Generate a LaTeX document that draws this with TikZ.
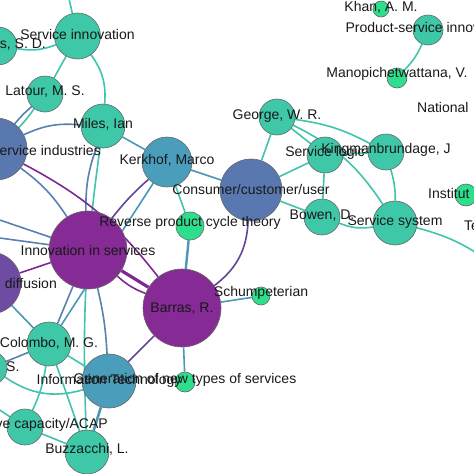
\documentclass[tikz,border=0pt]{standalone}
\usepackage{fontspec}
\setmainfont{Liberation Sans}
\usetikzlibrary{positioning}
\definecolor{nteal}{RGB}{62,200,168}
\definecolor{ngreen}{RGB}{45,222,140}
\definecolor{nbteal}{RGB}{74,158,187}
\definecolor{nblue}{RGB}{90,120,176}
\definecolor{npurp}{RGB}{134,42,150}
\definecolor{nviol}{RGB}{110,76,162}
\definecolor{eteal}{RGB}{64,196,172}
\definecolor{eblue}{RGB}{88,128,176}
\definecolor{epur}{RGB}{98,68,152}
\definecolor{edpur}{RGB}{125,40,148}
\definecolor{ebteal}{RGB}{76,150,182}
\pgfdeclarelayer{bg}
\pgfsetlayers{bg,main}
\tikzset{
  vn/.style={circle,draw=black!60,line width=0.6pt,inner sep=0pt},
  lbl/.style={font=\fontsize{14}{16}\selectfont,text=black!90,inner sep=0pt},
  et/.style={draw=eteal,line width=1.6pt},
  eb/.style={draw=eblue,line width=1.6pt},
  ep/.style={draw=epur,line width=1.6pt},
  edp/.style={draw=edpur,line width=1.6pt},
  ebt/.style={draw=ebteal,line width=1.6pt}
}
\begin{document}
\begin{tikzpicture}[x=1pt,y=-1pt]
\useasboundingbox (0,0) rectangle (474,474);
\clip (0,0) rectangle (474,474);
% nodes
\node[vn,fill=nteal,minimum size=46pt] (svinno) at (77.5,36) {};
\node[vn,fill=nteal,minimum size=38pt] (ssd) at (-2,46) {};
\node[vn,fill=nteal,minimum size=36pt] (latour) at (45,94) {};
\node[vn,fill=nteal,minimum size=44pt] (miles) at (103,126) {};
\node[vn,fill=nblue,minimum size=62pt] (svind) at (-4,149) {};
\node[vn,fill=nbteal,minimum size=50pt] (kerkhof) at (167,162) {};
\node[vn,fill=nblue,minimum size=62pt] (consumer) at (251,190) {};
\node[vn,fill=nteal,minimum size=36pt] (george) at (277,117) {};
\node[vn,fill=nteal,minimum size=36pt] (svlogic) at (325,155) {};
\node[vn,fill=nteal,minimum size=36pt] (kingman) at (386,152) {};
\node[vn,fill=nteal,minimum size=36pt] (bowen) at (322,217) {};
\node[vn,fill=nteal,minimum size=44pt] (svsys) at (395,223) {};
\node[vn,fill=ngreen,minimum size=22pt] (instit) at (466,195) {};
\node[vn,fill=ngreen,minimum size=16pt] (khan) at (381,9) {};
\node[vn,fill=nteal,minimum size=30pt] (prodsv) at (428,30) {};
\node[vn,fill=ngreen,minimum size=20pt] (manop) at (397,78) {};
\node[vn,fill=ngreen,minimum size=28pt] (reverse) at (190,226) {};
\node[vn,fill=npurp,minimum size=78pt] (inno) at (88,250) {};
\node[vn,fill=npurp,minimum size=78pt] (barras) at (182,308) {};
\node[vn,fill=nviol,minimum size=62pt] (diffu) at (-10,283) {};
\node[vn,fill=nteal,minimum size=44pt] (colombo) at (49,344) {};
\node[vn,fill=nteal,minimum size=34pt] (sdot) at (-10,368) {};
\node[vn,fill=nbteal,minimum size=54pt] (infotech) at (109,381) {};
\node[vn,fill=ngreen,minimum size=20pt] (genserv) at (185,382) {};
\node[vn,fill=nteal,minimum size=36pt] (acap) at (25,427) {};
\node[vn,fill=nteal,minimum size=44pt] (buzz) at (87,452) {};
\node[vn,fill=ngreen,minimum size=18pt] (schump) at (261,296) {};
\coordinate (topc) at (67,-10);
\coordinate (offla) at (-15,215);
\coordinate (offlb) at (-15,236);
\coordinate (offlc) at (-15,400);
\coordinate (offr) at (490,262);
% edges
\begin{pgfonlayer}{bg}
\clip (0,0) rectangle (474,474);
\draw[et] (svinno) -- (topc);
\draw[et] (ssd) to[bend right=15] (svinno);
\draw[et] (latour) -- (svinno);
\draw[et] (svinno) to[bend left=20] (miles);
\draw[et] (latour) to[bend left=5] (svind);
\draw[eb] (latour) to[bend right=5] (svind);
\draw[eb] (miles) to[bend right=15] (svind);
\draw[ebt] (miles) -- (kerkhof);
\draw[eb] (miles) to[bend right=10] (inno);
\draw[et] (miles) to[bend right=5] (buzz);
\draw[et] (kerkhof) -- (reverse);
\draw[ebt] (kerkhof) -- (consumer);
\draw[ep] (kerkhof) to[bend right=5] (inno);
\draw[ebt] (kerkhof) -- (colombo);
\draw[et] (consumer) -- (george);
\draw[et] (consumer) -- (svlogic);
\draw[et] (consumer) -- (bowen);
\draw[ep] (consumer) to[bend left=25] (barras);
\draw[et] (george) -- (svlogic);
\draw[et] (george) to[bend left=10] (kingman);
\draw[et] (george) to[bend left=15] (svsys);
\draw[et] (svlogic) -- (kingman);
\draw[et] (svlogic) -- (bowen);
\draw[et] (kingman) to[bend left=8] (svsys);
\draw[et] (bowen) to[bend right=15] (svsys);
\draw[et] (svsys) to[bend left=10] (offr);
\draw[et] (prodsv) to[bend left=10] (manop);
\draw[ebt,line width=2.4pt] (reverse) -- (barras);
\draw[edp,line width=3.2pt] (inno) -- (barras);
\draw[edp] (inno) to[bend right=10] (barras);
\draw[edp] (svind) to[bend left=12] (barras);
\draw[eb] (svind) to[bend left=10] (inno);
\draw[edp] (diffu) -- (inno);
\draw[ebt] (diffu) -- (colombo);
\draw[eb] (offla) -- (inno);
\draw[eb] (offlb) -- (inno);
\draw[eb] (inno) -- (colombo);
\draw[eb] (inno) to[bend left=5] (infotech);
\draw[ep] (barras) -- (infotech);
\draw[ebt] (barras) -- (genserv);
\draw[ebt] (barras) -- (schump);
\draw[eb] (colombo) -- (sdot);
\draw[et] (colombo) to[bend left=8] (acap);
\draw[et] (colombo) -- (buzz);
\draw[et] (colombo) -- (infotech);
\draw[et] (sdot) to[bend right=25] (infotech);
\draw[et] (acap) -- (buzz);
\draw[ebt,line width=2.6pt] (infotech) -- (buzz);
\draw[et] (offlc) -- (acap);
\end{pgfonlayer}
% labels
\node[lbl] (svinno-t) at ([yshift=2pt]svinno) {Service innovation};
\node[lbl,anchor=east] (ssd-t) at (46,45) {s, S. D.};
\node[lbl] (latour-t) at ([yshift=2pt]latour) {Latour, M. S.};
\node[lbl] (miles-t) at ([yshift=2pt]miles) {Miles, Ian};
\node[lbl,anchor=east] (svind-t) at (101,150) {Service industries};
\node[lbl] (kerkhof-t) at ([yshift=2pt]kerkhof) {Kerkhof, Marco};
\node[lbl] (consumer-t) at ([yshift=1pt]consumer) {Consumer/customer/user};
\node[lbl] (george-t) at ([yshift=1pt]george) {George, W. R.};
\node[lbl] (svlogic-t) at ([yshift=2pt]svlogic) {Service logic};
\node[lbl] (kingman-t) at ([yshift=2pt]kingman) {Kingmanbrundage, J};
\node[lbl] (bowen-t) at ([yshift=1pt]bowen) {Bowen, D.};
\node[lbl] (svsys-t) at ([yshift=1pt]svsys) {Service system};
\node[lbl,anchor=west] (instit-t) at (428,193) {Institut};
\node[lbl,anchor=west] (te-t) at (464,226) {Te};
\node[lbl,anchor=west] (natl-t) at (417,107) {National};
\node[lbl] (khan-t) at ([yshift=2pt]khan) {Khan, A. M.};
\node[lbl] (prodsv-t) at ([yshift=3pt]prodsv) {Product-service innovation};
\node[lbl] (manop-t) at ([yshift=4pt]manop) {Manopichetwattana, V.};
\node[lbl] (reverse-t) at ([yshift=3pt]reverse) {Reverse product cycle theory};
\node[lbl] (inno-t) at (inno) {Innovation in services};
\node[lbl] (barras-t) at ([yshift=-1pt]barras) {Barras, R.};
\node[lbl,anchor=east] (diffu-t) at (57,283) {diffusion};
\node[lbl] (colombo-t) at ([yshift=1pt]colombo) {Colombo, M. G.};
\node[lbl,anchor=west] (sdot-t) at (6,367) {S.};
\node[lbl] (infotech-t) at (109,381) {Information Technology};
\node[lbl] (genserv-t) at ([yshift=2pt]genserv) {Generation of new types of services};
\node[lbl,anchor=east] (acap-t) at (108,425) {Absorptive capacity/ACAP};
\node[lbl] (buzz-t) at ([yshift=3pt]buzz) {Buzzacchi, L.};
\node[lbl] (schump-t) at ([yshift=3pt]schump) {Schumpeterian};
\end{tikzpicture}
\end{document}
